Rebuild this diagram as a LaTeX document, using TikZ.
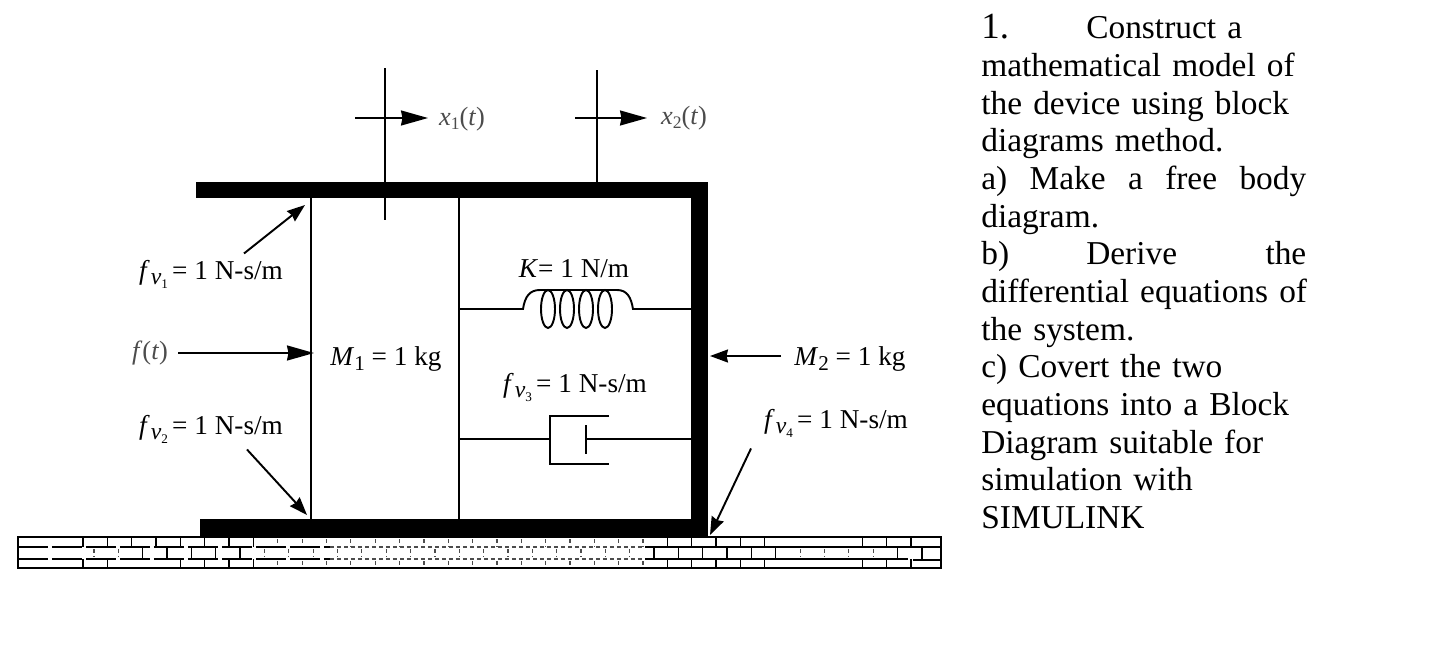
\documentclass[tikz,border=0pt]{standalone}
\usepackage{fontspec}
\setmainfont{Liberation Serif}
\usetikzlibrary{arrows.meta}
\newcommand{\fvlabel}[1]{\textit{f}\hspace{0.6pt}\raisebox{-3.2pt}{\fontsize{13.5}{13.5}\selectfont\textit{v}\raisebox{-2pt}{\fontsize{7.5}{7.5}\selectfont #1}}\hspace{2.4pt}= 1 N-s/m}
\newcommand{\masslabel}[1]{\textit{M}\raisebox{-3pt}{\fontsize{12}{12}\selectfont #1} = 1 kg}
\newcommand{\fullline}[1]{\makebox[6.5cm][l]{#1}}
\tikzset{
	lbl/.style={anchor=base,inner sep=0pt,font=\fontsize{15.5}{18}\selectfont},
	faintlbl/.style={lbl,text=black!70,font=\fontsize{15}{18}\selectfont},
	rod/.style={line width=1.1pt},
	pointer/.style={line width=1.1pt,-{Stealth[length=0.36cm,width=0.26cm,inset=0.03cm]}},
	bigpointer/.style={line width=1.1pt,-{Stealth[length=0.54cm,width=0.3cm,inset=0.03cm]}},
	mass/.style={fill=black,draw=none},
	brick/.style={line width=0.7pt},
	brickshort/.style={line width=0.7pt,black!70,dash pattern=on 0.08cm off 0.06cm}
}
\begin{document}
\begin{tikzpicture}[x=0.02cm,y=-0.02cm]
\useasboundingbox (0,0) rectangle (1434,670);

\foreach\k in {0,...,7,24,25,26,27,28,32,33,34}{
	\draw[brick]({83+24.35*\k},537)--++(0,10);}
\foreach\k in {8,...,23}{
	\draw[brickshort]({83+24.35*\k},539)--++(0,8);}
\foreach\k in {2,...,6,23,24,25,26,27,28,33,34}{
	\draw[brick]({94+24.35*\k},547)--++(0,12);}
\foreach\k in {0,1,7,8,...,22,29,30,31,32}{
	\draw[brickshort]({94+24.35*\k},549)--++(0,8);}
\foreach\k in {0,1,4,5,6,7,24,25,26,27,28,32,33,34}{
	\draw[brick]({83+24.35*\k},559)--++(0,9);}
\foreach\k in {8,...,23}{
	\draw[brickshort]({83+24.35*\k},561)--++(0,7);}
\draw[brick,dash pattern=on 0.6cm off 0.08cm](18,547)--(330,547);
\draw[brick,dash pattern=on 0.6cm off 0.08cm](18,559)--(330,559);
\draw[brickshort](330,547)--(645,547);
\draw[brickshort](330,559)--(645,559);
\draw[brick](645,547)--(941,547);
\draw[brick](645,559)--(908,559);
\draw[brick](913,560)--(941,560);
\draw[line width=1.2pt](18,537) rectangle (941,568);

\fill[mass](196,182) rectangle (708,198);
\fill[mass](691,182) rectangle (708,537);
\fill[mass](200,519) rectangle (708,537);

\draw[rod](311,198)--(311,519);
\draw[rod](459,198)--(459,519);

\draw[rod](385,68)--(385,182);
\draw[rod](385,198)--(385,220);
\draw[rod](597,70)--(597,182);
\coordinate (xonestart) at (355,118);
\coordinate (xonetip) at (428,118);
\coordinate (xtwostart) at (575,118);
\coordinate (xtwotip) at (647,118);
\draw[bigpointer](xonestart)--(xonetip);
\draw[bigpointer](xtwostart)--(xtwotip);
\node[faintlbl] (xone) at (462,125){\textit{x}\raisebox{-2.5pt}{\fontsize{10}{10}\selectfont 1}(\textit{t})};
\node[faintlbl] (xtwo) at (684,124){\textit{x}\raisebox{-2.5pt}{\fontsize{10}{10}\selectfont 2}(\textit{t})};

\draw[rod](459,309)--(523,309) .. controls (525,296) and (530,290) .. (540,290)--(617,290) .. controls (627,290) and (631,297) .. (633,309)--(691,309);
\foreach\x in {548,567,586,605}{
	\draw[rod](\x,309) ellipse (7 and 19);}
\node[lbl] (spring) at (574,277){\textit{K}= 1 N/m};

\draw[rod](459,439)--(550,439);
\draw[rod](609,416)--(550,416)--(550,464)--(609,464);
\draw[rod](586,425)--(586,454);
\draw[rod](586,439)--(691,439);

\node[lbl] (fvone) at (211,279){\fvlabel{1}};
\node[lbl] (fvtwo) at (211,434){\fvlabel{2}};
\node[lbl] (fvthree) at (575,392){\fvlabel{3}};
\node[lbl] (fvfour) at (836,428){\fvlabel{4}};
\node[lbl] (mone) at (386,365){\masslabel{1}};
\node[lbl] (mtwo) at (850,365){\masslabel{2}};
\node[faintlbl] (force) at (150,359){\textit{f}(\textit{t})};

\coordinate (fvonetip) at (305,205);
\coordinate (fvtwotip) at (307,515);
\coordinate (fvfourtip) at (710,535);
\coordinate (forcetip) at (314,353);
\coordinate (mtwotip) at (710,356);
\draw[pointer]([shift={(0.66cm,0.12cm)}]fvone.north)--(fvonetip);
\draw[pointer]([shift={(0.72cm,-0.12cm)}]fvtwo.south)--(fvtwotip);
\draw[pointer]([shift={(-1.7cm,-0.22cm)}]fvfour.south)--(fvfourtip);
\draw[bigpointer]([xshift=0.2cm]force.east |- forcetip)--(forcetip);
\draw[pointer]([xshift=-0.26cm]mtwo.west |- mtwotip)--(mtwotip);

\node[anchor=north west,inner sep=0pt,text width=6.8cm,align=left,font=\fontsize{19}{21.45}\selectfont] (task) at (981,14){%
\makebox[2.1cm][l]{\fontsize{21}{21.3}\selectfont 1.}Construct a\\
mathematical model of\\
the device using block\\
diagrams method.\\
\fullline{a)\hfill Make\hfill a\hfill free\hfill body}\\
diagram.\\
\fullline{\makebox[2.1cm][l]{b)}Derive\hfill the}\\
differential equations of\\
the system.\\
c) Covert the two\\
equations into a Block\\
Diagram suitable for\\
simulation with\\
SIMULINK};
\end{tikzpicture}
\end{document}
